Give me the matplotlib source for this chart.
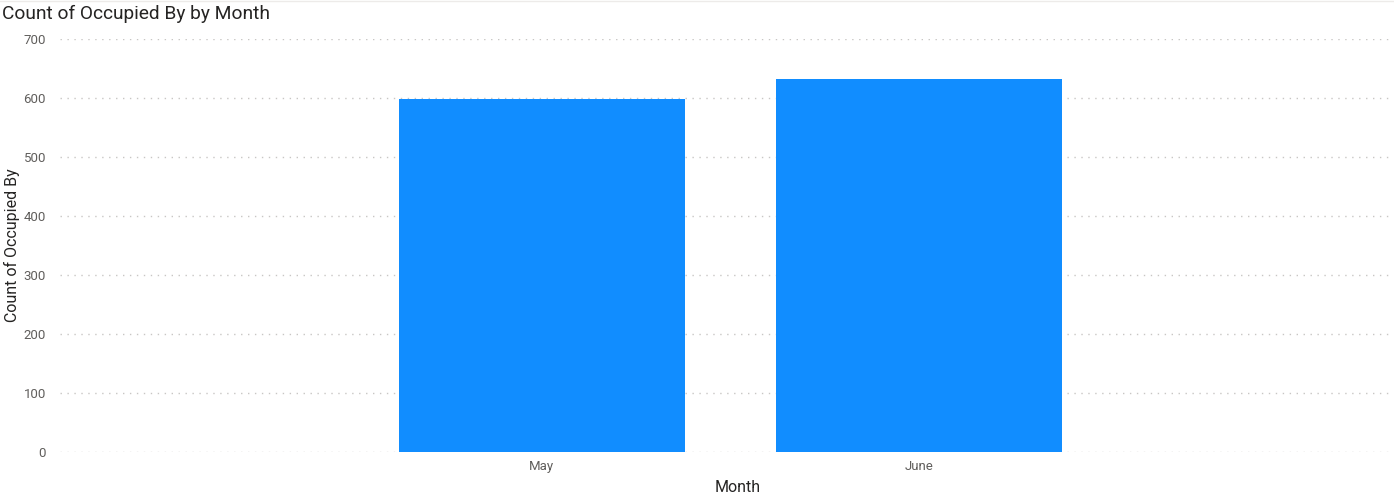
import matplotlib.pyplot as plt

# data
months = ['May', 'June']
counts = [598, 632]
y_ticks = [0, 100, 200, 300, 400, 500, 600, 700]

plt.rcParams['font.family'] = ['Roboto', 'DejaVu Sans']

fig = plt.figure(figsize=(13.94, 4.96), dpi=100)
ax = fig.add_axes([0.043, 0.0887, 0.954, 0.8326])

x = range(len(months))
ax.bar(x, counts, width=0.759, color='#118DFF', zorder=3)

ax.set_xlim(-1.278, 2.249)
ax.set_ylim(0, 700)
ax.set_yticks(y_ticks)
ax.set_xticks(list(x))
ax.set_xticklabels(months)

ax.grid(axis='y', linestyle=(0, (1, 4)), color='#C8C6C4', linewidth=1, zorder=0)
for s in ax.spines.values():
    s.set_visible(False)
ax.tick_params(length=0, labelsize=9.5, colors='#605E5C', pad=10)
ax.tick_params(axis='x', pad=6)

# axis titles placed by hand so they stay inside the canvas
fig.text(738 / 1394, 1 - 487 / 496, 'Month', fontsize=11.5, color='#252423',
         ha='center', va='center')
fig.text(12 / 1394, 1 - 245 / 496, 'Count of Occupied By', fontsize=11.5, color='#252423',
         ha='center', va='center', rotation=90)

fig.text(0.0015, 0.972, 'Count of Occupied By by Month', fontsize=13.8, color='#252423',
         ha='left', va='center')
fig.add_artist(plt.Line2D([0, 1], [0.998, 0.998], color='#EDEBE9', linewidth=1))

fig.savefig('out.png', dpi=100)
